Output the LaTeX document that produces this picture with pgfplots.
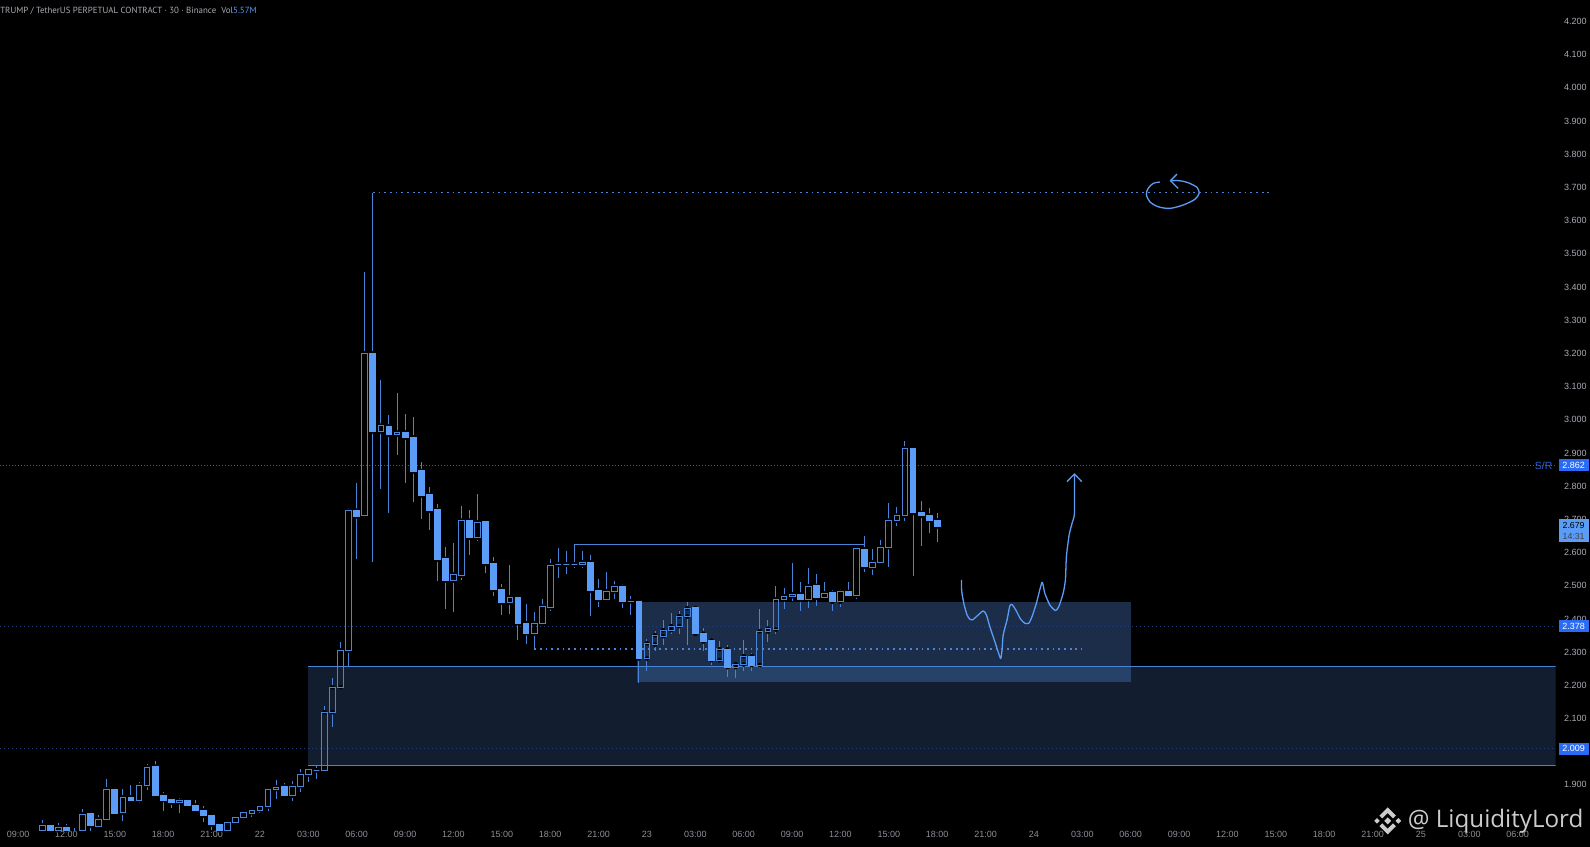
\documentclass[border=0pt]{standalone}
\usepackage{fontspec}
\setmainfont{Liberation Sans}
\newfontfamily\tvfont{PT Sans}
\newfontfamily\wmfont{Open Sans}
\usepackage{pgfplots}
\usepackage{pgfplotstable}
\pgfplotsset{compat=1.18}

\definecolor{body}{HTML}{5B9CF6}
\definecolor{edge}{HTML}{4A84D6}
\definecolor{zone}{HTML}{5A96F0}
\definecolor{srblue}{HTML}{2C5FD8}
\definecolor{tagblue}{HTML}{2A6BF5}
\definecolor{dimblue}{HTML}{23407E}
\definecolor{axistext}{HTML}{A8ABB3}
\definecolor{timetext}{HTML}{8E9097}

\pgfdeclareplotmark{candlehollow}{%
  \pgfpathrectangle{\pgfpoint{-2.9pt}{0pt}}{\pgfpoint{5.8pt}{\pgfplotmarksize}}\pgfusepathqstroke}
\pgfdeclareplotmark{candlefilled}{%
  \pgfpathrectangle{\pgfpoint{-2.9pt}{0pt}}{\pgfpoint{5.8pt}{\pgfplotmarksize}}\pgfusepathqfillstroke}

% hours since 09:00 on the 21st, open high low close
\pgfplotstableread{
t o h l c
1.5 1.7625 1.795 1.7625 1.778
2.5 1.7625 1.7865 1.7625 1.7715
4 1.7625 1.8277 1.7625 1.8116
5 1.7745 1.8086 1.7685 1.7966
5.5 1.7966 1.917 1.7966 1.8869
6.5 1.8156 1.8869 1.7925 1.8628
7.5 1.8528 1.908 1.8467 1.8989
8 1.8989 1.9632 1.8859 1.9532
10 1.8477 1.8598 1.8166 1.8518
13 1.7625 1.7875 1.7625 1.7875
13.5 1.7875 1.8066 1.7865 1.8006
14 1.8006 1.8217 1.7945 1.8156
14.5 1.8146 1.8297 1.8046 1.8237
15 1.8237 1.8417 1.8166 1.8357
15.5 1.8347 1.8869 1.8217 1.8869
16 1.8869 1.915 1.8588 1.8929
17 1.8668 1.913 1.8508 1.8959
17.5 1.8959 1.9492 1.8789 1.9311
18 1.9311 1.9492 1.909 1.9471
18.5 1.9441 1.9592 1.919 1.9441
19 1.9431 2.1379 1.9431 2.1188
19.5 2.1188 2.2232 2.0737 2.1941
20 2.1941 2.3297 2.1941 2.3056
20.5 2.3046 2.7333 2.2544 2.7263
21.5 2.7113 3.4452 2.7032 3.2002
22.5 2.9643 3.1199 2.7926 2.9823
23.5 2.9552 3.0817 2.894 2.9623
27 2.5155 2.6299 2.42 2.5345
27.5 2.5305 2.7404 2.5175 2.6962
28.5 2.644 2.7765 2.636 2.6912
30.5 2.4492 2.5627 2.4151 2.4653
32 2.3558 2.4211 2.3086 2.386
32.5 2.386 2.4593 2.3789 2.4372
33 2.4341 2.5807 2.4241 2.5617
33.5 2.5637 2.6139 2.5245 2.5637
34 2.5637 2.6048 2.5355 2.5637
34.5 2.5637 2.5677 2.5596 2.5637
35 2.5627 2.6048 2.5536 2.5707
36.5 2.4582 2.5406 2.4522 2.4833
37 2.4833 2.5145 2.4603 2.4974
38 2.4532 2.4693 2.412 2.4532
39 2.2805 2.3388 2.2444 2.3267
39.5 2.3227 2.3629 2.3046 2.3508
40 2.3478 2.396 2.3217 2.3659
40.5 2.3659 2.4171 2.3548 2.378
41 2.378 2.4241 2.3548 2.408
41.5 2.407 2.4522 2.3217 2.4321
43.5 2.2755 2.3348 2.2735 2.3086
44.5 2.2544 2.2665 2.2213 2.2635
45 2.2625 2.3368 2.2444 2.2876
46 2.2605 2.4301 2.2514 2.3629
46.5 2.3619 2.397 2.3317 2.3709
47 2.3679 2.4994 2.3548 2.4593
47.5 2.4583 2.4934 2.4291 2.4683
48 2.4683 2.5677 2.4542 2.4743
49 2.4593 2.5536 2.4331 2.4984
50 2.4643 2.5125 2.4572 2.4773
51 2.4512 2.4894 2.4362 2.4823
52 2.4703 2.6179 2.4602 2.6129
53 2.5556 2.6098 2.5325 2.5707
53.5 2.5697 2.638 2.5697 2.6159
54 2.6159 2.7494 2.5576 2.6962
54.5 2.6962 2.7363 2.6801 2.7112
55 2.7102 2.9361 2.6952 2.9141
}\upcandles

\pgfplotstableread{
t o h l c
2 1.778 1.778 1.7625 1.7625
3 1.7715 1.7825 1.763 1.7634
3.5 1.75 1.7685 1.74 1.745
4.5 1.8126 1.8156 1.7624 1.7775
6 1.8869 1.8869 1.8106 1.8146
7 1.8628 1.8989 1.8518 1.8538
8.5 1.9552 1.9712 1.8688 1.8688
9 1.8688 1.8779 1.8217 1.8538
9.5 1.8548 1.8568 1.8317 1.8467
10.5 1.8518 1.8568 1.8367 1.8367
11 1.8377 1.8538 1.8217 1.8227
11.5 1.8237 1.8357 1.7885 1.8076
12 1.8076 1.8076 1.7644 1.7805
12.5 1.7815 1.7845 1.7625 1.7625
16.5 1.8949 1.905 1.8628 1.8668
21 2.7263 2.8086 2.5817 2.7083
22 3.2002 3.6841 2.5707 2.9643
23 2.9803 3.0155 2.7203 2.9542
24 2.9623 3.0175 2.8106 2.9462
24.5 2.9472 3.0074 2.7534 2.8438
25 2.8458 2.8719 2.7012 2.7715
25.5 2.7735 2.7966 2.6681 2.7263
26 2.7283 2.7454 2.5155 2.5777
26.5 2.5807 2.6159 2.43 2.5155
28 2.6962 2.7283 2.5918 2.645
29 2.6922 2.6962 2.5396 2.5657
29.5 2.5677 2.5868 2.4693 2.4873
30 2.4894 2.5044 2.412 2.4492
31 2.4653 2.4693 2.3368 2.387
31.5 2.387 2.4452 2.3247 2.3568
35.5 2.5707 2.5938 2.409 2.4854
36 2.4864 2.5195 2.4372 2.4582
37.5 2.4974 2.5054 2.4331 2.4532
38.5 2.4522 2.4522 2.2062 2.2805
42 2.4331 2.4331 2.3488 2.3548
42.5 2.3558 2.3719 2.3046 2.3317
43 2.3348 2.3348 2.2615 2.2755
44 2.3086 2.3207 2.2263 2.2544
45.5 2.2876 2.2986 2.2444 2.2605
48.5 2.4733 2.5104 2.4241 2.4572
49.5 2.4994 2.5345 2.4392 2.4633
50.5 2.4783 2.4874 2.4251 2.4512
51.5 2.4813 2.5125 2.4693 2.4693
52.5 2.6098 2.649 2.5416 2.5576
55.5 2.9141 2.9211 2.5295 2.7193
56 2.7193 2.7544 2.6199 2.7102
56.5 2.7112 2.7343 2.658 2.6972
57 2.6972 2.7203 2.6329 2.6781
}\downcandles

\begin{document}
\begin{tikzpicture}[x=1pt,y=1pt]
\fill[black] (0,-16) rectangle (1590,831);
\begin{axis}[
    at={(0,0)}, anchor=south west,
    scale only axis, width=1556pt, height=831pt,
    xmin=-1.116, xmax=95.35,
    ymin=1.7614, ymax=4.2645,
    axis line style={draw=none},
    major tick length=0pt,
    ytick={1.9,2,...,4.25},
    yticklabel pos=right,
    yticklabel style={
        font=\fontsize{9}{11}\selectfont, text=axistext, anchor=west, xshift=5pt,
        /pgf/number format/.cd, fixed, fixed zerofill, precision=3, assume math mode=true},
    xtick={0,3,...,93},
    xticklabels={09:00,12:00,15:00,18:00,21:00,22,03:00,06:00,09:00,12:00,15:00,18:00,21:00,23,03:00,06:00,09:00,12:00,15:00,18:00,21:00,24,03:00,06:00,09:00,12:00,15:00,18:00,21:00,25,03:00,06:00},
    xticklabel style={font=\fontsize{9}{11}\selectfont, text=timetext, anchor=center, yshift=-4pt},
    wick/.style={only marks, mark=none, forget plot,
        error bars/y dir=#1, error bars/y explicit, error bars/error mark=none,
        error bars/error bar style={line width=1pt, color=edge}},
]
% zones
\addplot[draw=none, fill=zone, fill opacity=0.2] coordinates {(18,1.9593)(95.35,1.9593)(95.35,2.2552)(18,2.2552)} --cycle;
\addplot[draw=none, fill=zone, fill opacity=0.3] coordinates {(38.4,2.21)(69,2.21)(69,2.4512)(38.4,2.4512)} --cycle;
\addplot[edge, line width=1pt] coordinates {(18,2.2552)(95.35,2.2552)};
\addplot[edge, line width=1pt] coordinates {(18,1.9593)(95.35,1.9593)};

% levels
\addplot[srblue, line width=0.8pt, dash pattern=on 1pt off 2pt] coordinates {(-1.116,2.862)(95.35,2.862)};
\addplot[dimblue, line width=0.8pt, dash pattern=on 1pt off 3pt] coordinates {(-1.116,2.378)(95.35,2.378)};
\addplot[dimblue, line width=0.8pt, dash pattern=on 1pt off 3pt] coordinates {(-1.116,2.009)(95.35,2.009)};
\addplot[edge, line width=1.4pt, dash pattern=on 1.8pt off 3.9pt] coordinates {(22,3.684)(77.7,3.684)};
\addplot[edge, line width=1.4pt, dash pattern=on 1.8pt off 3.9pt] coordinates {(32,2.3096)(66,2.3096)};
\addplot[edge, line width=1.1pt] coordinates {(34.5,2.5545)(34.5,2.625)(52.5,2.625)};

% wicks
\addplot[wick=plus] table[x=t, y=c, y error plus expr=\thisrow{h}-\thisrow{c}] {\upcandles};
\addplot[wick=minus] table[x=t, y=o, y error minus expr=\thisrow{o}-\thisrow{l}] {\upcandles};
\addplot[wick=plus] table[x=t, y=o, y error plus expr=\thisrow{h}-\thisrow{o}] {\downcandles};
\addplot[wick=minus] table[x=t, y=c, y error minus expr=\thisrow{c}-\thisrow{l}] {\downcandles};

% bodies
\addplot[only marks, scatter, forget plot, mark=candlehollow,
    scatter/use mapped color={draw=edge, fill=body},
    mark options={line width=1pt},
    visualization depends on={(\thisrow{c}-\thisrow{o})*332 \as \bodyh},
    scatter/@pre marker code/.append style={/tikz/mark size=\bodyh}]
    table[x=t, y=o] {\upcandles};
\addplot[only marks, scatter, forget plot, mark=candlefilled,
    scatter/use mapped color={draw=body, fill=body},
    mark options={line width=1pt},
    visualization depends on={(\thisrow{o}-\thisrow{c})*332 \as \bodyh},
    scatter/@pre marker code/.append style={/tikz/mark size=\bodyh}]
    table[x=t, y=c] {\downcandles};

% hand drawn path
\addplot[body, line width=1.3pt, smooth, tension=0.35, line join=round] coordinates {
(58.50,2.5174)(58.52,2.4823)(58.67,2.4421)(58.85,2.412)(59.02,2.399)(59.19,2.397)(59.43,2.407)(59.85,2.424)
(60.05,2.412)(60.26,2.3769)(60.57,2.3317)(60.82,2.2946)(60.94,2.2805)(61.02,2.3066)(61.09,2.3518)(61.33,2.397)
(61.50,2.4391)(61.64,2.4431)(61.87,2.4271)(62.16,2.4)(62.43,2.3869)(62.68,2.3869)(62.88,2.407)(63.15,2.4472)
(63.50,2.5104)(63.67,2.4773)(63.98,2.4421)(64.33,2.425)(64.54,2.4371)(64.81,2.4773)(64.95,2.5174)(65.01,2.5877)
(65.18,2.653)(65.36,2.6881)(65.51,2.7182)(65.51,2.8367)};
\addplot[body, line width=1.3pt, line join=round] coordinates {(65.05,2.8136)(65.51,2.8367)(65.96,2.8136)};
\addplot[body, line width=1.3pt, smooth, tension=0.5] coordinates {
(70.80,3.7162)(70.39,3.7122)(70.08,3.6972)(69.97,3.6791)(70.18,3.657)(70.70,3.6419)(71.42,3.6369)(72.25,3.647)
(72.97,3.664)(73.24,3.6821)(73.11,3.7002)(72.56,3.7142)(72.04,3.7203)(71.46,3.7203)};
\addplot[body, line width=1.3pt, line join=round] coordinates {(71.87,3.7403)(71.46,3.7203)(71.94,3.6972)};
\end{axis}

% header and price tags
\node[anchor=west, inner sep=0pt, text=axistext, font=\tvfont\fontsize{8.9}{11}\selectfont] at (0,820.5)
  {TRUMP / TetherUS PERPETUAL CONTRACT · 30 · Binance\hspace{5pt}Vol\textcolor{body}{5.57M}};
\node[anchor=east, inner sep=0pt, text=srblue, font=\fontsize{10.5}{12}\selectfont] at (1553,365.5) {S/R};
\foreach \yy/\lab in {365.5/2.862,205/2.378,82/2.009}{
  \fill[tagblue] (1559,\yy-6) rectangle (1589,\yy+6);
  \node[text=white, font=\fontsize{9}{11}\selectfont, inner sep=0pt] at (1574,\yy) {\lab};
}
\fill[body] (1559,289) rectangle (1589,311.5);
\node[text=black, font=\fontsize{8.8}{10}\selectfont, inner sep=0pt] at (1574,305.8) {2.679};
\node[text=black!75, font=\fontsize{8.8}{10}\selectfont, inner sep=0pt] at (1574,294.4) {14:31};

% watermark
\begin{scope}[shift={(1388,10)}, fill=white!80!black]
  \fill (0,-3.5) -- (3.5,0) -- (0,3.5) -- (-3.5,0) -- cycle;
  \fill (-13.5,0) -- (-10.7,-2.8) -- (-7.9,0) -- (-10.7,2.8) -- cycle;
  \fill (13.5,0) -- (10.7,-2.8) -- (7.9,0) -- (10.7,2.8) -- cycle;
  \fill (0,13.5) -- (8.2,5.3) -- (5.4,2.5) -- (0,7.9) -- (-5.4,2.5) -- (-8.2,5.3) -- cycle;
  \fill (0,-13.5) -- (8.2,-5.3) -- (5.4,-2.5) -- (0,-7.9) -- (-5.4,-2.5) -- (-8.2,-5.3) -- cycle;
\end{scope}
\node[anchor=west, inner sep=0pt, text=white!80!black, font=\wmfont\fontsize{24.2}{26}\selectfont] at (1408,10) {@ LiquidityLord};
\end{tikzpicture}
\end{document}
